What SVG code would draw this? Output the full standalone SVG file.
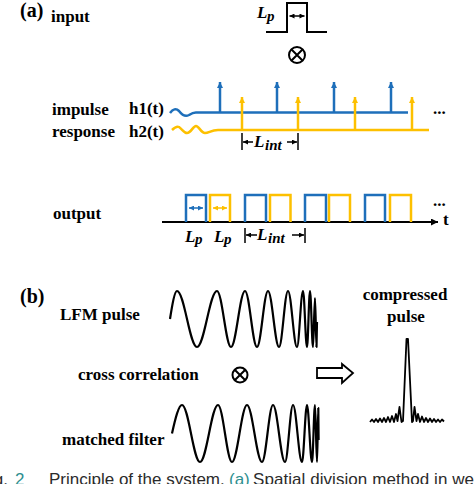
<svg xmlns="http://www.w3.org/2000/svg" width="474" height="484" viewBox="0 0 474 484">
<style>
.lb{font-family:"Liberation Serif","Times New Roman",serif;font-weight:bold;font-size:17px;fill:#000}
.hd{font-size:20px}
.mi{font-family:"Liberation Serif","Times New Roman",serif;font-weight:bold;font-style:italic;fill:#000}
.L{font-size:17px}
.sub{font-size:15px}
.bl{stroke:#1e6fba;fill:none;stroke-width:2.5}
.ye{stroke:#fdc000;fill:none;stroke-width:2.5}
.k{stroke:#000;fill:none;stroke-width:2}
.wave{stroke:#000;fill:none;stroke-width:2.2;stroke-linejoin:round}
.cap{font-family:"Liberation Sans",Arial,sans-serif;font-size:17px;fill:#2b2b2b}
.teal{fill:#2e8f8f}
</style>
<defs>
<marker id="ab" viewBox="0 0 10 10" refX="10" refY="5" markerWidth="7" markerHeight="6" markerUnits="userSpaceOnUse" orient="auto"><path d="M0,0L10,5L0,10z" fill="#1e6fba"/></marker>
<marker id="ay" viewBox="0 0 10 10" refX="10" refY="5" markerWidth="7" markerHeight="6" markerUnits="userSpaceOnUse" orient="auto"><path d="M0,0L10,5L0,10z" fill="#fdc000"/></marker>
<marker id="ak" viewBox="0 0 10 10" refX="10" refY="5" markerWidth="6" markerHeight="5" markerUnits="userSpaceOnUse" orient="auto-start-reverse"><path d="M0,0L10,5L0,10z" fill="#000"/></marker>
<marker id="akb" viewBox="0 0 10 10" refX="10" refY="5" markerWidth="5" markerHeight="5" markerUnits="userSpaceOnUse" orient="auto-start-reverse"><path d="M0,0L10,5L0,10z" fill="#1e6fba"/></marker>
<marker id="aky" viewBox="0 0 10 10" refX="10" refY="5" markerWidth="5" markerHeight="5" markerUnits="userSpaceOnUse" orient="auto-start-reverse"><path d="M0,0L10,5L0,10z" fill="#fdc000"/></marker>
<marker id="axis" viewBox="0 0 10 10" refX="10" refY="5" markerWidth="8" markerHeight="7" markerUnits="userSpaceOnUse" orient="auto"><path d="M0,0L10,5L0,10z" fill="#000"/></marker>
</defs>

<g id="label-a"><text class="lb hd" x="20" y="17">(a)</text></g>

<g id="input">
<text class="lb" x="51" y="22">input</text>
<path class="k" d="M266,32H287V3H307V32H327"/>
<line x1="289.5" y1="16" x2="304.5" y2="16" stroke="#000" stroke-width="1.5" marker-start="url(#ak)" marker-end="url(#ak)"/>
<text class="mi L" x="257" y="18">L</text><text class="mi sub" x="267" y="21">p</text>
</g>

<g id="otimes1">
<circle cx="297" cy="55" r="8" fill="none" stroke="#000" stroke-width="2"/>
<path d="M291.3,49.3L302.7,60.7M302.7,49.3L291.3,60.7" stroke="#000" stroke-width="2"/>
</g>

<g id="impulse-response">
<text class="lb" x="52" y="115">impulse</text>
<text class="lb" x="52" y="137">response</text>
<text class="lb" x="129" y="114">h1(t)</text>
<text class="lb" x="129" y="137">h2(t)</text>
<path class="bl" d="M170,113C173,109 176,108 179,111C182,115 185,117 189,115C192,113 194,112 197,112.5H408"/>
<path class="ye" d="M172,130C175,127 177,126 179,127C182,129 184,133 187,133C191,133 193,126 196,126C199,126 201,133 205,133C209,133 211,130 218,130H429"/>
</g>

<g id="connectors">
<line class="bl" x1="220" y1="112.5" x2="220" y2="82" marker-end="url(#ab)"/>
<line class="bl" x1="277" y1="112.5" x2="277" y2="82" marker-end="url(#ab)"/>
<line class="bl" x1="334" y1="112.5" x2="334" y2="82" marker-end="url(#ab)"/>
<line class="bl" x1="391" y1="112.5" x2="391" y2="82" marker-end="url(#ab)"/>
<line class="ye" x1="242" y1="130" x2="242" y2="97" marker-end="url(#ay)"/>
<line class="ye" x1="298" y1="130" x2="298" y2="97" marker-end="url(#ay)"/>
<line class="ye" x1="355" y1="130" x2="355" y2="97" marker-end="url(#ay)"/>
<line class="ye" x1="412" y1="130" x2="412" y2="97" marker-end="url(#ay)"/>
</g>

<g id="dots1"><text class="lb" x="433" y="114">...</text></g>

<g id="Lint1">
<path d="M242,133V150M298,133V150" stroke="#000" stroke-width="1.5"/>
<line x1="253" y1="142" x2="243" y2="142" stroke="#000" stroke-width="1.5" marker-end="url(#ak)"/>
<line x1="287" y1="142" x2="297" y2="142" stroke="#000" stroke-width="1.5" marker-end="url(#ak)"/>
<text class="mi L" x="254" y="147">L</text><text class="mi sub" x="265" y="150">int</text>
</g>

<g id="output">
<text class="lb" x="53" y="219">output</text>
<line class="k" x1="162" y1="222" x2="438" y2="222" marker-end="url(#axis)"/>
<text class="lb" x="443" y="225">t</text>
<path class="bl" d="M186,222V195H206V222M245,222V195H266V222M305,222V195H326V222M365,222V195H385V222"/>
<path class="ye" d="M210,222V195H230V222M270,222V195H290.5V222M329,222V195H350V222M390,222V195H411V222"/>
<line x1="189" y1="208" x2="203" y2="208" stroke="#1e6fba" stroke-width="1.5" marker-start="url(#akb)" marker-end="url(#akb)"/>
<line x1="213" y1="208" x2="227" y2="208" stroke="#fdc000" stroke-width="1.5" marker-start="url(#aky)" marker-end="url(#aky)"/>
<text class="mi L" x="185" y="242">L</text><text class="mi sub" x="195" y="244">p</text>
<text class="mi L" x="214" y="242">L</text><text class="mi sub" x="224" y="244">p</text>
<path d="M245,228V243M305,228V243" stroke="#000" stroke-width="1.5"/>
<line x1="257" y1="235" x2="246" y2="235" stroke="#000" stroke-width="1.5" marker-end="url(#ak)"/>
<line x1="292" y1="235" x2="304" y2="235" stroke="#000" stroke-width="1.5" marker-end="url(#ak)"/>
<text class="mi L" x="257" y="240">L</text><text class="mi sub" x="268" y="243">int</text>
<text class="lb" x="433" y="206">...</text>
</g>

<g id="label-b"><text class="lb hd" x="20" y="303">(b)</text></g>

<g id="lfm-pulse">
<text class="lb" x="60" y="320">LFM pulse</text>
<path class="wave" d="M170,319C172.3,304.5 174.7,291 177,291C184.3,291 189.7,347 197,347C204.3,347 209.7,291 217,291C222.1,291 225.9,347 231,347C236.1,347 239.9,291 245,291C249.4,291 252.6,347 257,347C261,347 264,291 268,291C272,291 275,347 279,347C282.3,347 284.7,291 288,291C291.3,291 293.7,347 297,347C299.2,347 300.8,291 303,291C304.5,291 305.5,347 307,347C308.1,347 308.9,291 310,291C311.1,291 311.9,347 313,347C313.7,347 314.3,298 315,298C315.5,298 316,347 316.5,347L317,322"/>
</g>

<g id="cross-correlation">
<text class="lb" x="78" y="380">cross correlation</text>
<circle cx="240" cy="375" r="7.5" fill="none" stroke="#000" stroke-width="2"/>
<path d="M234.7,369.7L245.3,380.3M245.3,369.7L234.7,380.3" stroke="#000" stroke-width="2"/>
</g>

<g id="matched-filter">
<text class="lb" x="62" y="445">matched filter</text>
<path class="wave" d="M172,433.5C175.3,418.7 178.7,405 182,405C188.5,405 193.5,462 200,462C206.5,462 211.5,405 218,405C223.1,405 226.9,462 232,462C237.4,462 241.6,405 247,405C252.4,405 256.6,462 262,462C266,462 269,405 273,405C277.4,405 280.6,462 285,462C287.9,462 290.1,405 293,405C296.3,405 298.7,462 302,462C303.8,462 305.2,405 307,405C308.8,405 310.2,462 312,462C313.1,462 313.9,405 315,405C315.7,405 316.3,462 317,462C317.5,462 317.8,408 318.3,408L318.6,440"/>
</g>

<g id="arrow-right">
<path d="M317,368H342V364L353,373L342,383V378H317Z" fill="#fff" stroke="#000" stroke-width="1.8" stroke-linejoin="miter"/>
</g>

<g id="compressed-pulse">
<text class="lb" x="405" y="300" text-anchor="middle">compressed</text>
<text class="lb" x="406" y="322" text-anchor="middle">pulse</text>
<polyline fill="none" stroke="#000" stroke-width="1.8" stroke-linejoin="round" points="370,422 372,419.5 374,422 376,419 378,422 380,418.5 382,422 384,418 386,422 388,417 390,422 392,416 394,422 396,414 397.5,421 399.5,407 401.5,422 403,421 406.5,339 408,339 412,422 413,421 414.5,407 416.5,421 418,414 420,422 422,416.5 424,422 426,418 428,422 430,418.5 432,422 434,419 436,422 438,419.5 440,422 442,419.5 444,421.5"/>
</g>

<g id="caption">
<text class="cap" x="8" y="485" text-anchor="end">Fig.</text>
<text class="cap teal" x="15" y="485">2</text>
<text class="cap" x="49" y="485">Principle of the system.</text>
<text class="cap teal" x="229" y="485">(a)</text>
<text class="cap" x="253" y="485" textLength="221">Spatial division method in we</text>
</g>
</svg>
